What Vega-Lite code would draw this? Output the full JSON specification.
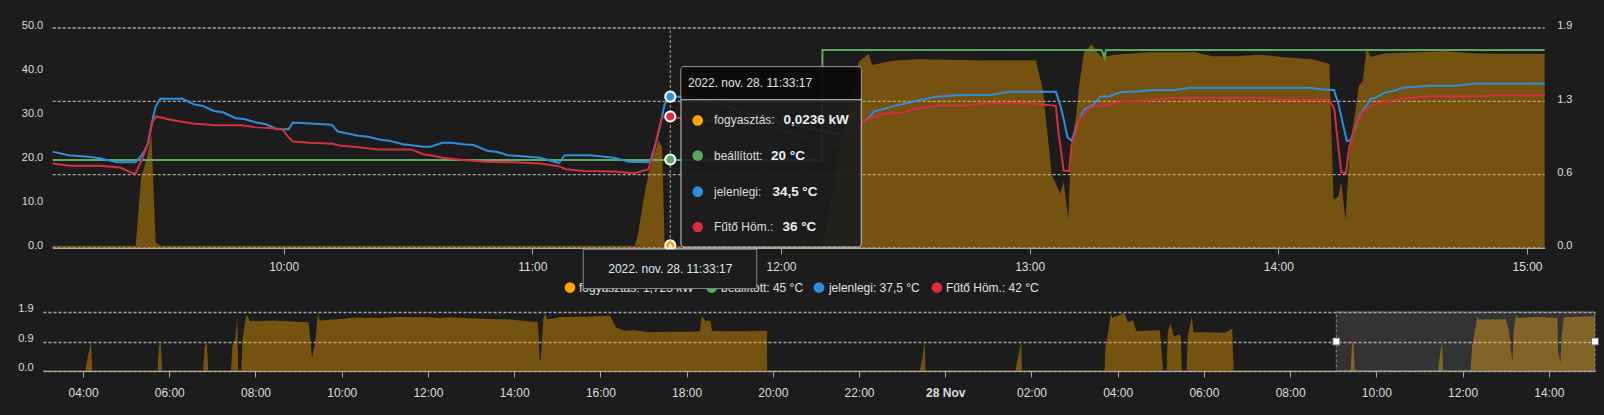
{"$schema":"https://vega.github.io/schema/vega-lite/v6.json","background":"#1c1c1c","padding":{"left":17,"top":20,"right":11,"bottom":16},"width":1552,"height":343.8,"config":{"view":{"stroke":null},"font":"Liberation Sans","axis":{"labelFont":"Liberation Sans","labelColor":"#dddddd"}},
"datasets":{
"gridlines":[{"v":0,"t":"2022-11-28T09:04:16Z","t1":"2022-11-28T15:04:16Z"},{"v":0.6333,"t":"2022-11-28T09:04:16Z","t1":"2022-11-28T15:04:16Z"},{"v":1.2667,"t":"2022-11-28T09:04:16Z","t1":"2022-11-28T15:04:16Z"},{"v":1.9,"t":"2022-11-28T09:04:16Z","t1":"2022-11-28T15:04:16Z"}],
"power":[{"t":"2022-11-28T09:04:16Z","v":0.02},{"t":"2022-11-28T09:24:18Z","v":0.02},{"t":"2022-11-28T09:25:36Z","v":0.61},{"t":"2022-11-28T09:26:48Z","v":0.75},{"t":"2022-11-28T09:28:06Z","v":0.97},{"t":"2022-11-28T09:29:06Z","v":0.05},{"t":"2022-11-28T09:30:12Z","v":0.02},{"t":"2022-11-28T11:24:42Z","v":0.02},{"t":"2022-11-28T11:25:30Z","v":0.12},{"t":"2022-11-28T11:26:48Z","v":0.41},{"t":"2022-11-28T11:28:00Z","v":0.64},{"t":"2022-11-28T11:29:12Z","v":0.78},{"t":"2022-11-28T11:30:30Z","v":0.93},{"t":"2022-11-28T11:31:18Z","v":0.87},{"t":"2022-11-28T11:31:54Z","v":0.05},{"t":"2022-11-28T11:32:36Z","v":0.02},{"t":"2022-11-28T12:09:06Z","v":0.02},{"t":"2022-11-28T12:10:24Z","v":0.12},{"t":"2022-11-28T12:12:06Z","v":0.41},{"t":"2022-11-28T12:14:06Z","v":0.84},{"t":"2022-11-28T12:16:36Z","v":1.27},{"t":"2022-11-28T12:18:42Z","v":1.6},{"t":"2022-11-28T12:19:06Z","v":1.62},{"t":"2022-11-28T12:21:12Z","v":1.675},{"t":"2022-11-28T12:22:00Z","v":1.58},{"t":"2022-11-28T12:27:24Z","v":1.62},{"t":"2022-11-28T12:33:18Z","v":1.63},{"t":"2022-11-28T12:49:54Z","v":1.62},{"t":"2022-11-28T13:01:30Z","v":1.62},{"t":"2022-11-28T13:03:12Z","v":1.36},{"t":"2022-11-28T13:05:18Z","v":0.64},{"t":"2022-11-28T13:07:18Z","v":0.47},{"t":"2022-11-28T13:08:12Z","v":0.57},{"t":"2022-11-28T13:09:18Z","v":0.25},{"t":"2022-11-28T13:10:00Z","v":0.87},{"t":"2022-11-28T13:11:12Z","v":1.14},{"t":"2022-11-28T13:12:00Z","v":1.42},{"t":"2022-11-28T13:13:06Z","v":1.69},{"t":"2022-11-28T13:15:00Z","v":1.76},{"t":"2022-11-28T13:16:36Z","v":1.675},{"t":"2022-11-28T13:17:24Z","v":1.65},{"t":"2022-11-28T13:20:48Z","v":1.67},{"t":"2022-11-28T13:29:06Z","v":1.69},{"t":"2022-11-28T13:39:54Z","v":1.69},{"t":"2022-11-28T13:44:00Z","v":1.655},{"t":"2022-11-28T13:49:54Z","v":1.655},{"t":"2022-11-28T13:55:42Z","v":1.67},{"t":"2022-11-28T14:00:42Z","v":1.65},{"t":"2022-11-28T14:08:06Z","v":1.63},{"t":"2022-11-28T14:12:18Z","v":1.59},{"t":"2022-11-28T14:12:42Z","v":1.13},{"t":"2022-11-28T14:13:18Z","v":0.42},{"t":"2022-11-28T14:14:24Z","v":0.44},{"t":"2022-11-28T14:15:12Z","v":0.57},{"t":"2022-11-28T14:16:12Z","v":0.24},{"t":"2022-11-28T14:17:18Z","v":0.9},{"t":"2022-11-28T14:18:30Z","v":1.16},{"t":"2022-11-28T14:19:24Z","v":1.4},{"t":"2022-11-28T14:20:24Z","v":1.445},{"t":"2022-11-28T14:21:18Z","v":1.73},{"t":"2022-11-28T14:22:18Z","v":1.65},{"t":"2022-11-28T14:25:36Z","v":1.68},{"t":"2022-11-28T14:39:42Z","v":1.7},{"t":"2022-11-28T14:48:00Z","v":1.68},{"t":"2022-11-28T15:04:16Z","v":1.675}],
"green":[{"t":"2022-11-28T09:04:16Z","v":20},{"t":"2022-11-28T12:09:50Z","v":20},{"t":"2022-11-28T12:10:00Z","v":45},{"t":"2022-11-28T13:17:18Z","v":45},{"t":"2022-11-28T13:18:06Z","v":43.3},{"t":"2022-11-28T13:18:24Z","v":45},{"t":"2022-11-28T15:04:16Z","v":45}],
"blue":[{"t":"2022-11-28T09:04:16Z","v":21.9},{"t":"2022-11-28T09:08:06Z","v":21.1},{"t":"2022-11-28T09:12:18Z","v":20.8},{"t":"2022-11-28T09:15:36Z","v":20.4},{"t":"2022-11-28T09:19:48Z","v":19.5},{"t":"2022-11-28T09:24:18Z","v":19.5},{"t":"2022-11-28T09:26:00Z","v":21.4},{"t":"2022-11-28T09:27:12Z","v":23.6},{"t":"2022-11-28T09:28:30Z","v":29.7},{"t":"2022-11-28T09:29:06Z","v":32.1},{"t":"2022-11-28T09:30:12Z","v":33.9},{"t":"2022-11-28T09:35:36Z","v":33.9},{"t":"2022-11-28T09:38:30Z","v":32.6},{"t":"2022-11-28T09:40:30Z","v":32.3},{"t":"2022-11-28T09:43:00Z","v":31.2},{"t":"2022-11-28T09:45:30Z","v":30.8},{"t":"2022-11-28T09:48:24Z","v":29.5},{"t":"2022-11-28T09:50:30Z","v":29.3},{"t":"2022-11-28T09:53:24Z","v":28.5},{"t":"2022-11-28T09:55:30Z","v":28.2},{"t":"2022-11-28T09:58:24Z","v":27},{"t":"2022-11-28T10:01:12Z","v":27},{"t":"2022-11-28T10:02:12Z","v":28.5},{"t":"2022-11-28T10:06:18Z","v":28.3},{"t":"2022-11-28T10:11:36Z","v":28},{"t":"2022-11-28T10:13:00Z","v":26.5},{"t":"2022-11-28T10:14:36Z","v":26.2},{"t":"2022-11-28T10:18:00Z","v":25.5},{"t":"2022-11-28T10:20:24Z","v":25.3},{"t":"2022-11-28T10:23:24Z","v":24.6},{"t":"2022-11-28T10:25:24Z","v":24.4},{"t":"2022-11-28T10:28:48Z","v":23.6},{"t":"2022-11-28T10:31:18Z","v":23.3},{"t":"2022-11-28T10:33:42Z","v":23},{"t":"2022-11-28T10:35:24Z","v":23},{"t":"2022-11-28T10:38:18Z","v":23.9},{"t":"2022-11-28T10:40:24Z","v":23.9},{"t":"2022-11-28T10:43:18Z","v":23.6},{"t":"2022-11-28T10:45:48Z","v":23.4},{"t":"2022-11-28T10:49:06Z","v":22.1},{"t":"2022-11-28T10:51:36Z","v":21.8},{"t":"2022-11-28T10:54:06Z","v":21.1},{"t":"2022-11-28T10:57:00Z","v":20.9},{"t":"2022-11-28T11:01:48Z","v":20.5},{"t":"2022-11-28T11:06:24Z","v":19.3},{"t":"2022-11-28T11:07:48Z","v":21.1},{"t":"2022-11-28T11:13:54Z","v":21.1},{"t":"2022-11-28T11:19:42Z","v":20.5},{"t":"2022-11-28T11:23:18Z","v":19.6},{"t":"2022-11-28T11:28:24Z","v":19.5},{"t":"2022-11-28T11:29:42Z","v":23.6},{"t":"2022-11-28T11:30:54Z","v":28.2},{"t":"2022-11-28T11:31:54Z","v":32.6},{"t":"2022-11-28T11:33:17Z","v":34.5},{"t":"2022-11-28T11:35:06Z","v":34.4},{"t":"2022-11-28T11:39:36Z","v":34.4},{"t":"2022-11-28T11:42:30Z","v":33.5},{"t":"2022-11-28T11:46:42Z","v":32.3},{"t":"2022-11-28T11:50:54Z","v":30.8},{"t":"2022-11-28T11:55:48Z","v":30.1},{"t":"2022-11-28T12:00:00Z","v":28.2},{"t":"2022-11-28T12:05:00Z","v":27.6},{"t":"2022-11-28T12:09:06Z","v":26.7},{"t":"2022-11-28T12:14:06Z","v":25.9},{"t":"2022-11-28T12:19:30Z","v":28.3},{"t":"2022-11-28T12:21:24Z","v":29.8},{"t":"2022-11-28T12:22:24Z","v":31},{"t":"2022-11-28T12:27:24Z","v":32.3},{"t":"2022-11-28T12:32:00Z","v":33.3},{"t":"2022-11-28T12:37:24Z","v":34.4},{"t":"2022-11-28T12:43:12Z","v":34.8},{"t":"2022-11-28T12:50:42Z","v":34.8},{"t":"2022-11-28T12:54:54Z","v":35.5},{"t":"2022-11-28T13:06:18Z","v":35.5},{"t":"2022-11-28T13:07:18Z","v":32.7},{"t":"2022-11-28T13:08:18Z","v":28.9},{"t":"2022-11-28T13:09:06Z","v":25.2},{"t":"2022-11-28T13:10:06Z","v":24.4},{"t":"2022-11-28T13:12:00Z","v":29.3},{"t":"2022-11-28T13:13:06Z","v":31.4},{"t":"2022-11-28T13:15:24Z","v":32.6},{"t":"2022-11-28T13:17:00Z","v":34.4},{"t":"2022-11-28T13:19:06Z","v":34.5},{"t":"2022-11-28T13:22:00Z","v":35.4},{"t":"2022-11-28T13:26:36Z","v":35.6},{"t":"2022-11-28T13:29:54Z","v":35.9},{"t":"2022-11-28T13:34:54Z","v":35.9},{"t":"2022-11-28T13:38:36Z","v":36.4},{"t":"2022-11-28T14:07:42Z","v":36.4},{"t":"2022-11-28T14:10:36Z","v":36},{"t":"2022-11-28T14:13:24Z","v":35.9},{"t":"2022-11-28T14:14:24Z","v":33.1},{"t":"2022-11-28T14:15:36Z","v":28.2},{"t":"2022-11-28T14:16:30Z","v":24.4},{"t":"2022-11-28T14:17:18Z","v":24.4},{"t":"2022-11-28T14:18:30Z","v":27},{"t":"2022-11-28T14:19:48Z","v":30.5},{"t":"2022-11-28T14:21:00Z","v":32},{"t":"2022-11-28T14:22:18Z","v":33.9},{"t":"2022-11-28T14:23:30Z","v":34.2},{"t":"2022-11-28T14:25:36Z","v":35.3},{"t":"2022-11-28T14:27:42Z","v":35.7},{"t":"2022-11-28T14:30:12Z","v":36.4},{"t":"2022-11-28T14:36:24Z","v":36.9},{"t":"2022-11-28T14:42:36Z","v":36.9},{"t":"2022-11-28T14:47:36Z","v":37.4},{"t":"2022-11-28T15:04:16Z","v":37.4}],
"red":[{"t":"2022-11-28T09:04:16Z","v":19.2},{"t":"2022-11-28T09:08:30Z","v":18.7},{"t":"2022-11-28T09:15:36Z","v":18.7},{"t":"2022-11-28T09:20:36Z","v":18.3},{"t":"2022-11-28T09:23:30Z","v":17},{"t":"2022-11-28T09:24:18Z","v":17},{"t":"2022-11-28T09:26:00Z","v":20.6},{"t":"2022-11-28T09:27:24Z","v":24},{"t":"2022-11-28T09:28:06Z","v":28.3},{"t":"2022-11-28T09:29:12Z","v":29.9},{"t":"2022-11-28T09:33:54Z","v":28.9},{"t":"2022-11-28T09:38:06Z","v":28.3},{"t":"2022-11-28T09:43:30Z","v":27.9},{"t":"2022-11-28T09:49:42Z","v":27.9},{"t":"2022-11-28T09:53:00Z","v":27.5},{"t":"2022-11-28T09:56:18Z","v":27.3},{"t":"2022-11-28T09:59:42Z","v":27},{"t":"2022-11-28T10:00:54Z","v":25.5},{"t":"2022-11-28T10:02:12Z","v":24.2},{"t":"2022-11-28T10:06:18Z","v":23.9},{"t":"2022-11-28T10:11:42Z","v":23.7},{"t":"2022-11-28T10:13:24Z","v":23.3},{"t":"2022-11-28T10:18:00Z","v":22.9},{"t":"2022-11-28T10:22:54Z","v":22.4},{"t":"2022-11-28T10:30:48Z","v":22.4},{"t":"2022-11-28T10:33:42Z","v":21.3},{"t":"2022-11-28T10:35:24Z","v":21.1},{"t":"2022-11-28T10:38:18Z","v":20.5},{"t":"2022-11-28T10:43:18Z","v":20},{"t":"2022-11-28T10:48:42Z","v":19.6},{"t":"2022-11-28T10:55:24Z","v":19.5},{"t":"2022-11-28T11:01:48Z","v":19.2},{"t":"2022-11-28T11:06:24Z","v":18.6},{"t":"2022-11-28T11:08:00Z","v":17.9},{"t":"2022-11-28T11:12:36Z","v":17.5},{"t":"2022-11-28T11:19:42Z","v":17.4},{"t":"2022-11-28T11:24:42Z","v":17},{"t":"2022-11-28T11:28:00Z","v":17.9},{"t":"2022-11-28T11:29:12Z","v":21.4},{"t":"2022-11-28T11:30:30Z","v":26.7},{"t":"2022-11-28T11:31:18Z","v":29.7},{"t":"2022-11-28T11:33:17Z","v":29.9},{"t":"2022-11-28T11:35:54Z","v":29.5},{"t":"2022-11-28T11:40:00Z","v":28.9},{"t":"2022-11-28T11:45:00Z","v":28.8},{"t":"2022-11-28T11:50:54Z","v":28.3},{"t":"2022-11-28T11:55:48Z","v":28},{"t":"2022-11-28T12:00:00Z","v":27},{"t":"2022-11-28T12:05:00Z","v":25.5},{"t":"2022-11-28T12:09:06Z","v":24.4},{"t":"2022-11-28T12:13:42Z","v":22.9},{"t":"2022-11-28T12:15:00Z","v":24.8},{"t":"2022-11-28T12:17:54Z","v":26.7},{"t":"2022-11-28T12:19:30Z","v":28.3},{"t":"2022-11-28T12:21:24Z","v":29.5},{"t":"2022-11-28T12:24:54Z","v":30.5},{"t":"2022-11-28T12:29:30Z","v":30.8},{"t":"2022-11-28T12:32:00Z","v":31.6},{"t":"2022-11-28T12:38:12Z","v":32.4},{"t":"2022-11-28T12:44:54Z","v":32.4},{"t":"2022-11-28T12:49:00Z","v":32.9},{"t":"2022-11-28T12:59:54Z","v":32.9},{"t":"2022-11-28T13:06:18Z","v":32.3},{"t":"2022-11-28T13:06:54Z","v":26.7},{"t":"2022-11-28T13:08:12Z","v":17.6},{"t":"2022-11-28T13:09:30Z","v":17.5},{"t":"2022-11-28T13:10:06Z","v":23.3},{"t":"2022-11-28T13:10:48Z","v":25.5},{"t":"2022-11-28T13:12:00Z","v":29.3},{"t":"2022-11-28T13:14:48Z","v":32},{"t":"2022-11-28T13:17:00Z","v":32.3},{"t":"2022-11-28T13:19:06Z","v":32.5},{"t":"2022-11-28T13:22:24Z","v":33.3},{"t":"2022-11-28T13:29:06Z","v":33.6},{"t":"2022-11-28T13:34:06Z","v":34.1},{"t":"2022-11-28T13:56:30Z","v":34.1},{"t":"2022-11-28T14:00:42Z","v":33.7},{"t":"2022-11-28T14:12:18Z","v":33.7},{"t":"2022-11-28T14:13:30Z","v":31.6},{"t":"2022-11-28T14:14:24Z","v":23.6},{"t":"2022-11-28T14:15:12Z","v":17.2},{"t":"2022-11-28T14:16:18Z","v":17},{"t":"2022-11-28T14:17:06Z","v":22.9},{"t":"2022-11-28T14:18:30Z","v":27.4},{"t":"2022-11-28T14:20:12Z","v":30.8},{"t":"2022-11-28T14:22:18Z","v":32.3},{"t":"2022-11-28T14:25:36Z","v":33.2},{"t":"2022-11-28T14:29:48Z","v":33.9},{"t":"2022-11-28T14:36:24Z","v":34.5},{"t":"2022-11-28T14:48:54Z","v":34.5},{"t":"2022-11-28T14:52:36Z","v":34.8},{"t":"2022-11-28T15:04:16Z","v":34.8}],
"nav":[{"t":"2022-11-27T03:04:16Z","v":0.02},{"t":"2022-11-27T04:03:20Z","v":0.02},{"t":"2022-11-27T04:06:43Z","v":0.47},{"t":"2022-11-27T04:11:02Z","v":0.92},{"t":"2022-11-27T04:13:00Z","v":0.02},{"t":"2022-11-27T05:43:40Z","v":0.02},{"t":"2022-11-27T05:45:36Z","v":0.8},{"t":"2022-11-27T05:48:00Z","v":0.92},{"t":"2022-11-27T05:50:00Z","v":0.02},{"t":"2022-11-27T06:47:00Z","v":0.02},{"t":"2022-11-27T06:49:26Z","v":0.8},{"t":"2022-11-27T06:52:20Z","v":0.92},{"t":"2022-11-27T06:54:14Z","v":0.02},{"t":"2022-11-27T07:25:55Z","v":0.02},{"t":"2022-11-27T07:27:50Z","v":0.8},{"t":"2022-11-27T07:31:40Z","v":1.01},{"t":"2022-11-27T07:34:34Z","v":1.71},{"t":"2022-11-27T07:36:00Z","v":0.02},{"t":"2022-11-27T07:40:20Z","v":0.02},{"t":"2022-11-27T07:41:46Z","v":0.96},{"t":"2022-11-27T07:46:05Z","v":1.66},{"t":"2022-11-27T07:47:30Z","v":1.82},{"t":"2022-11-27T07:52:20Z","v":1.6},{"t":"2022-11-27T08:23:30Z","v":1.63},{"t":"2022-11-27T09:13:55Z","v":1.57},{"t":"2022-11-27T09:18:43Z","v":0.42},{"t":"2022-11-27T09:23:30Z","v":1.01},{"t":"2022-11-27T09:26:53Z","v":1.87},{"t":"2022-11-27T09:29:17Z","v":1.63},{"t":"2022-11-27T10:04:20Z","v":1.68},{"t":"2022-11-27T10:13:55Z","v":1.72},{"t":"2022-11-27T10:52:20Z","v":1.71},{"t":"2022-11-27T11:16:20Z","v":1.74},{"t":"2022-11-27T12:04:20Z","v":1.73},{"t":"2022-11-27T12:13:55Z","v":1.71},{"t":"2022-11-27T12:28:20Z","v":1.73},{"t":"2022-11-27T13:16:20Z","v":1.68},{"t":"2022-11-27T13:54:43Z","v":1.66},{"t":"2022-11-27T14:33:07Z","v":1.57},{"t":"2022-11-27T14:35:30Z","v":0.37},{"t":"2022-11-27T14:37:10Z","v":0.37},{"t":"2022-11-27T14:40:30Z","v":1.66},{"t":"2022-11-27T14:43:00Z","v":1.85},{"t":"2022-11-27T14:46:10Z","v":1.66},{"t":"2022-11-27T15:04:30Z","v":1.74},{"t":"2022-11-27T15:38:00Z","v":1.75},{"t":"2022-11-27T16:13:50Z","v":1.78},{"t":"2022-11-27T16:22:00Z","v":1.39},{"t":"2022-11-27T16:30:36Z","v":1.33},{"t":"2022-11-27T16:33:00Z","v":1.3},{"t":"2022-11-27T16:47:24Z","v":1.31},{"t":"2022-11-27T17:06:36Z","v":1.25},{"t":"2022-11-27T17:35:24Z","v":1.26},{"t":"2022-11-27T18:09:00Z","v":1.26},{"t":"2022-11-27T18:18:36Z","v":1.28},{"t":"2022-11-27T18:21:00Z","v":1.78},{"t":"2022-11-27T18:25:48Z","v":1.62},{"t":"2022-11-27T18:33:00Z","v":1.62},{"t":"2022-11-27T18:35:24Z","v":1.29},{"t":"2022-11-27T19:08:24Z","v":1.27},{"t":"2022-11-27T19:51:36Z","v":1.3},{"t":"2022-11-27T19:52:12Z","v":0.02},{"t":"2022-11-27T23:24:36Z","v":0.02},{"t":"2022-11-27T23:28:12Z","v":0.42},{"t":"2022-11-27T23:31:12Z","v":0.99},{"t":"2022-11-27T23:32:24Z","v":0.02},{"t":"2022-11-28T01:37:48Z","v":0.02},{"t":"2022-11-28T01:41:24Z","v":0.47},{"t":"2022-11-28T01:45:36Z","v":0.9},{"t":"2022-11-28T01:46:48Z","v":0.02},{"t":"2022-11-28T03:41:46Z","v":0.02},{"t":"2022-11-28T03:42:43Z","v":0.74},{"t":"2022-11-28T03:46:34Z","v":1.23},{"t":"2022-11-28T03:50:24Z","v":1.85},{"t":"2022-11-28T03:52:19Z","v":1.71},{"t":"2022-11-28T04:09:36Z","v":1.87},{"t":"2022-11-28T04:13:55Z","v":1.58},{"t":"2022-11-28T04:21:36Z","v":1.63},{"t":"2022-11-28T04:25:55Z","v":1.28},{"t":"2022-11-28T04:58:34Z","v":1.31},{"t":"2022-11-28T05:03:20Z","v":0.02},{"t":"2022-11-28T05:08:10Z","v":0.02},{"t":"2022-11-28T05:09:36Z","v":1.23},{"t":"2022-11-28T05:13:26Z","v":1.55},{"t":"2022-11-28T05:17:46Z","v":1.12},{"t":"2022-11-28T05:27:22Z","v":1.18},{"t":"2022-11-28T05:29:17Z","v":0.02},{"t":"2022-11-28T05:36:00Z","v":0.02},{"t":"2022-11-28T05:37:26Z","v":1.12},{"t":"2022-11-28T05:43:12Z","v":1.74},{"t":"2022-11-28T05:45:36Z","v":1.25},{"t":"2022-11-28T06:00:58Z","v":1.25},{"t":"2022-11-28T06:29:46Z","v":1.23},{"t":"2022-11-28T06:39:22Z","v":1.37},{"t":"2022-11-28T06:41:17Z","v":0.02},{"t":"2022-11-28T09:24:00Z","v":0.02},{"t":"2022-11-28T09:26:24Z","v":0.96},{"t":"2022-11-28T09:28:12Z","v":0.9},{"t":"2022-11-28T09:30:00Z","v":0.02},{"t":"2022-11-28T11:25:48Z","v":0.02},{"t":"2022-11-28T11:28:48Z","v":0.58},{"t":"2022-11-28T11:31:30Z","v":0.92},{"t":"2022-11-28T11:33:00Z","v":0.02},{"t":"2022-11-28T12:11:02Z","v":0.02},{"t":"2022-11-28T12:13:26Z","v":0.85},{"t":"2022-11-28T12:16:48Z","v":1.23},{"t":"2022-11-28T12:20:38Z","v":1.76},{"t":"2022-11-28T12:22:34Z","v":1.66},{"t":"2022-11-28T13:00:00Z","v":1.67},{"t":"2022-11-28T13:04:48Z","v":1.28},{"t":"2022-11-28T13:08:10Z","v":0.47},{"t":"2022-11-28T13:09:36Z","v":0.31},{"t":"2022-11-28T13:10:48Z","v":1.23},{"t":"2022-11-28T13:14:24Z","v":1.82},{"t":"2022-11-28T13:16:48Z","v":1.71},{"t":"2022-11-28T13:45:36Z","v":1.74},{"t":"2022-11-28T14:12:00Z","v":1.71},{"t":"2022-11-28T14:13:00Z","v":0.58},{"t":"2022-11-28T14:14:53Z","v":0.42},{"t":"2022-11-28T14:16:12Z","v":0.26},{"t":"2022-11-28T14:17:46Z","v":1.12},{"t":"2022-11-28T14:20:38Z","v":1.71},{"t":"2022-11-28T14:24:00Z","v":1.74},{"t":"2022-11-28T15:04:16Z","v":1.76}]
},
"resolve":{"scale":{"x":"independent","y":"independent"},"axis":{"x":"independent","y":"independent"}},
"layer":[
{"encoding":{"x":{"field":"t","type":"temporal","title":null,"scale":{"type":"utc","domain":["2022-11-28T09:04:16Z","2022-11-28T15:04:16Z"],"range":[9.7,1501.7]},"axis":{"orient":"bottom","format":"%H:%M","values":[{"year":2022,"month":11,"date":28,"hours":10,"utc":true},{"year":2022,"month":11,"date":28,"hours":11,"utc":true},{"year":2022,"month":11,"date":28,"hours":12,"utc":true},{"year":2022,"month":11,"date":28,"hours":13,"utc":true},{"year":2022,"month":11,"date":28,"hours":14,"utc":true},{"year":2022,"month":11,"date":28,"hours":15,"utc":true}],"offset":-123.8,"grid":false,"domainColor":"#aaaaaa","tickColor":"#aaaaaa","tickSize":6,"labelFontSize":12,"labelPadding":8,"labelColor":"#dddddd"}}},
"resolve":{"scale":{"y":"independent"},"axis":{"y":"independent"}},
"layer":[
{"data":{"name":"gridlines"},"mark":{"type":"rule","color":"#a8a8a8","strokeDash":[3,2],"strokeWidth":1.4},"encoding":{"x2":{"field":"t1"},"y":{"field":"v","type":"quantitative","title":null,"scale":{"domain":[0,1.9],"nice":false,"zero":false,"range":[220,0]},"axis":{"orient":"right","values":[0,0.6333,1.2667,1.9],"format":".1f","offset":-50.3,"labelPadding":12,"domain":false,"ticks":false,"grid":false,"labelFontSize":11,"labelOffset":-2,"labelColor":"#dddddd"}}}},
{"data":{"name":"power"},"mark":{"type":"area","color":"#ffa500","opacity":0.4,"interpolate":"linear"},"encoding":{"y":{"field":"v","type":"quantitative","scale":{"domain":[0,1.9],"nice":false,"zero":false,"range":[220,0]},"axis":null}}},
{"data":{"values":[{"t":"2022-11-28T11:33:17Z","v":0.0236,"series":"fogyasztás"}]},"mark":{"type":"point","filled":true,"opacity":1,"size":102,"stroke":"#ffffff","strokeWidth":2},"encoding":{"y":{"field":"v","type":"quantitative","scale":{"domain":[0,1.9],"nice":false,"zero":false,"range":[220,0]},"axis":null},"color":{"field":"series","type":"nominal","legend":null,"scale":{"domain":["fogyasztás","beállított","jelenlegi","Fűtő Höm."],"range":["#ffa500","#5aab61","#2e8fdb","#d32f3f"]}}}},
{"data":{"name":"green"},"mark":{"type":"line","color":"#5aab61","strokeWidth":2,"interpolate":"linear"},"encoding":{"y":{"field":"v","type":"quantitative","title":null,"scale":{"domain":[0,50],"nice":false,"zero":false,"range":[220,0]},"axis":{"orient":"left","values":[0,10,20,30,40,50],"format":".1f","offset":-9.7,"labelPadding":10,"domain":false,"ticks":false,"grid":false,"labelFontSize":11,"labelOffset":-2,"labelColor":"#dddddd"}}}},
{"data":{"name":"blue"},"mark":{"type":"line","color":"#2e8fdb","strokeWidth":2,"interpolate":"linear"},"encoding":{"y":{"field":"v","type":"quantitative","scale":{"domain":[0,50],"nice":false,"zero":false,"range":[220,0]},"axis":null}}},
{"data":{"name":"red"},"mark":{"type":"line","color":"#d32f3f","strokeWidth":2,"interpolate":"linear"},"encoding":{"y":{"field":"v","type":"quantitative","scale":{"domain":[0,50],"nice":false,"zero":false,"range":[220,0]},"axis":null}}},
{"data":{"values":[{"t":"2022-11-28T11:33:17Z","v":0,"v1":50}]},"mark":{"type":"rule","color":"#a8a8a8","strokeDash":[3,2],"strokeWidth":1},"encoding":{"y":{"field":"v","type":"quantitative","scale":{"domain":[0,50],"nice":false,"zero":false,"range":[220,0]},"axis":null},"y2":{"field":"v1"}}},
{"data":{"values":[{"t":"2022-11-28T11:33:17Z","v":20.1,"series":"beállított"},{"t":"2022-11-28T11:33:17Z","v":34.4,"series":"jelenlegi"},{"t":"2022-11-28T11:33:17Z","v":29.9,"series":"Fűtő Höm."}]},"mark":{"type":"point","filled":true,"opacity":1,"size":102,"stroke":"#ffffff","strokeWidth":2},"encoding":{"y":{"field":"v","type":"quantitative","scale":{"domain":[0,50],"nice":false,"zero":false,"range":[220,0]},"axis":null},"color":{"field":"series","type":"nominal","legend":null}}},
{"data":{"values":[{"t":"2022-11-28T11:35:52Z","t1":"2022-11-28T12:19:22Z","v":0.23,"v1":41.2}]},"mark":{"type":"rect","fill":"#1c1c1c","fillOpacity":0.93,"stroke":"#cccccc","strokeWidth":1,"cornerRadius":3},"encoding":{"y":{"field":"v","type":"quantitative","scale":{"domain":[0,50],"nice":false,"zero":false,"range":[220,0]},"axis":null},"x2":{"field":"t1"},"y2":{"field":"v1"}}},
{"data":{"values":[{"t":"2022-11-28T11:35:52Z","t1":"2022-11-28T12:19:22Z","v":33.7,"v1":41.2}]},"mark":{"type":"rect","fill":"#000000","fillOpacity":0.55,"cornerRadius":3},"encoding":{"y":{"field":"v","type":"quantitative","scale":{"domain":[0,50],"nice":false,"zero":false,"range":[220,0]},"axis":null},"x2":{"field":"t1"},"y2":{"field":"v1"}}},
{"data":{"values":[{"t":"2022-11-28T11:35:52Z","t1":"2022-11-28T12:19:22Z","v":33.7}]},"mark":{"type":"rule","color":"#cccccc","strokeWidth":1},"encoding":{"y":{"field":"v","type":"quantitative","scale":{"domain":[0,50],"nice":false,"zero":false,"range":[220,0]},"axis":null},"x2":{"field":"t1"}}},
{"data":{"values":[{"t":"2022-11-28T11:37:33Z","v":37.5,"label":"2022. nov. 28. 11:33:17"}]},"mark":{"type":"text","align":"left","baseline":"middle","fontSize":12,"color":"#e0e0e0"},"encoding":{"y":{"field":"v","type":"quantitative","scale":{"domain":[0,50],"nice":false,"zero":false,"range":[220,0]},"axis":null},"text":{"field":"label"}}},
{"data":{"values":[{"t":"2022-11-28T11:39:54Z","v":29,"series":"fogyasztás"},{"t":"2022-11-28T11:39:54Z","v":21,"series":"beállított"},{"t":"2022-11-28T11:39:54Z","v":12.8,"series":"jelenlegi"},{"t":"2022-11-28T11:39:54Z","v":4.77,"series":"Fűtő Höm."},{"t":"2022-11-28T11:09:05Z","v":-9,"series":"fogyasztás"},{"t":"2022-11-28T11:43:16Z","v":-9,"series":"beállított"},{"t":"2022-11-28T12:09:10Z","v":-9,"series":"jelenlegi"},{"t":"2022-11-28T12:37:38Z","v":-9,"series":"Fűtő Höm."}]},"mark":{"type":"point","filled":true,"opacity":1,"size":113},"encoding":{"y":{"field":"v","type":"quantitative","scale":{"domain":[0,50],"nice":false,"zero":false,"range":[220,0]},"axis":null},"color":{"field":"series","type":"nominal","legend":null}}},
{"data":{"values":[{"t":"2022-11-28T11:11:15Z","v":-9,"label":"fogyasztás: 1,723 kW"},{"t":"2022-11-28T11:45:31Z","v":-9,"label":"beállított: 45 °C"},{"t":"2022-11-28T12:11:34Z","v":-9,"label":"jelenlegi: 37,5 °C"},{"t":"2022-11-28T12:39:48Z","v":-9,"label":"Fűtő Höm.: 42 °C"}]},"mark":{"type":"text","align":"left","baseline":"middle","fontSize":12,"color":"#e0e0e0"},"encoding":{"y":{"field":"v","type":"quantitative","scale":{"domain":[0,50],"nice":false,"zero":false,"range":[220,0]},"axis":null},"text":{"field":"label"}}},
{"data":{"values":[{"t":"2022-11-28T11:43:50Z","v":29,"label":"fogyasztás:"},{"t":"2022-11-28T11:43:50Z","v":21,"label":"beállított:"},{"t":"2022-11-28T11:43:50Z","v":12.8,"label":"jelenlegi:"},{"t":"2022-11-28T11:43:50Z","v":4.77,"label":"Fűtő Höm.:"}]},"mark":{"type":"text","align":"left","baseline":"middle","fontSize":12,"color":"#dddddd"},"encoding":{"y":{"field":"v","type":"quantitative","scale":{"domain":[0,50],"nice":false,"zero":false,"range":[220,0]},"axis":null},"text":{"field":"label"}}},
{"data":{"values":[{"t":"2022-11-28T12:00:36Z","v":29,"label":"0,0236 kW"},{"t":"2022-11-28T11:57:35Z","v":21,"label":"20 °C"},{"t":"2022-11-28T11:57:55Z","v":12.8,"label":"34,5 °C"},{"t":"2022-11-28T12:00:20Z","v":4.77,"label":"36 °C"}]},"mark":{"type":"text","align":"left","baseline":"middle","fontSize":13.5,"fontWeight":"bold","color":"#eeeeee"},"encoding":{"y":{"field":"v","type":"quantitative","scale":{"domain":[0,50],"nice":false,"zero":false,"range":[220,0]},"axis":null},"text":{"field":"label"}}},
{"data":{"values":[{"t":"2022-11-28T11:12:17Z","t1":"2022-11-28T11:54:08Z","v":-0.3,"v1":-9.2}]},"mark":{"type":"rect","fill":"#1c1c1c","stroke":"#7a8a94","strokeWidth":1},"encoding":{"y":{"field":"v","type":"quantitative","scale":{"domain":[0,50],"nice":false,"zero":false,"range":[220,0]},"axis":null},"x2":{"field":"t1"},"y2":{"field":"v1"}}},
{"data":{"values":[{"t":"2022-11-28T11:33:17Z","v":-4.68,"label":"2022. nov. 28. 11:33:17"}]},"mark":{"type":"text","align":"center","baseline":"middle","fontSize":12,"color":"#dde6ee"},"encoding":{"y":{"field":"v","type":"quantitative","scale":{"domain":[0,50],"nice":false,"zero":false,"range":[220,0]},"axis":null},"text":{"field":"label"}}},
{"data":{"values":[{"t":"2022-11-28T11:33:17Z","v":0.4}]},"mark":{"type":"point","shape":"triangle-up","filled":true,"opacity":1,"size":50,"color":"#eeeeee"},"encoding":{"y":{"field":"v","type":"quantitative","scale":{"domain":[0,50],"nice":false,"zero":false,"range":[220,0]},"axis":null}}}
]},
{"encoding":{"x":{"field":"t","type":"temporal","title":null,"scale":{"type":"utc","domain":["2022-11-27T03:04:16Z","2022-11-28T15:04:16Z"],"range":[0,1552]},"axis":{"orient":"bottom","offset":-0.8,"values":[{"year":2022,"month":11,"date":27,"hours":4,"utc":true},{"year":2022,"month":11,"date":27,"hours":6,"utc":true},{"year":2022,"month":11,"date":27,"hours":8,"utc":true},{"year":2022,"month":11,"date":27,"hours":10,"utc":true},{"year":2022,"month":11,"date":27,"hours":12,"utc":true},{"year":2022,"month":11,"date":27,"hours":14,"utc":true},{"year":2022,"month":11,"date":27,"hours":16,"utc":true},{"year":2022,"month":11,"date":27,"hours":18,"utc":true},{"year":2022,"month":11,"date":27,"hours":20,"utc":true},{"year":2022,"month":11,"date":27,"hours":22,"utc":true},{"year":2022,"month":11,"date":28,"hours":0,"utc":true},{"year":2022,"month":11,"date":28,"hours":2,"utc":true},{"year":2022,"month":11,"date":28,"hours":4,"utc":true},{"year":2022,"month":11,"date":28,"hours":6,"utc":true},{"year":2022,"month":11,"date":28,"hours":8,"utc":true},{"year":2022,"month":11,"date":28,"hours":10,"utc":true},{"year":2022,"month":11,"date":28,"hours":12,"utc":true},{"year":2022,"month":11,"date":28,"hours":14,"utc":true}],"labelExpr":"utchours(datum.value)==0?'28 Nov':utcFormat(datum.value,'%H:%M')","labelFontWeight":{"condition":{"test":"utchours(datum.value)==0","value":"bold"},"value":"normal"},"grid":false,"domainColor":"#aaaaaa","tickColor":"#aaaaaa","tickSize":6,"labelFontSize":12,"labelPadding":11,"labelColor":"#dddddd"}},
"y":{"field":"v","type":"quantitative","title":null,"scale":{"domain":[0,1.9],"nice":false,"zero":false,"range":[343,284]},"axis":{"orient":"left","values":[0,0.95,1.9],"format":".1f","labelPadding":10,"domain":false,"ticks":false,"grid":true,"gridColor":"#a8a8a8","gridDash":[3,2],"gridWidth":1.4,"labelFontSize":11,"labelOffset":-3,"labelColor":"#dddddd"}}},
"layer":[
{"data":{"name":"nav"},"mark":{"type":"area","color":"#ffa500","opacity":0.4,"interpolate":"linear"}},
{"data":{"values":[{"t":"2022-11-28T09:04:16Z","t1":"2022-11-28T15:04:16Z","v":0,"v1":1.9}]},"mark":{"type":"rect","fill":"#ffffff","fillOpacity":0.1,"stroke":"#888888","strokeDash":[3,2],"strokeWidth":1},"encoding":{"x2":{"field":"t1"},"y2":{"field":"v1"}}},
{"data":{"values":[{"t":"2022-11-28T09:04:16Z","v":0.95},{"t":"2022-11-28T15:04:16Z","v":0.95}]},"mark":{"type":"point","shape":"square","filled":true,"opacity":1,"size":49,"fill":"#ffffff","stroke":"#666666","strokeWidth":1}}
]}
]}
